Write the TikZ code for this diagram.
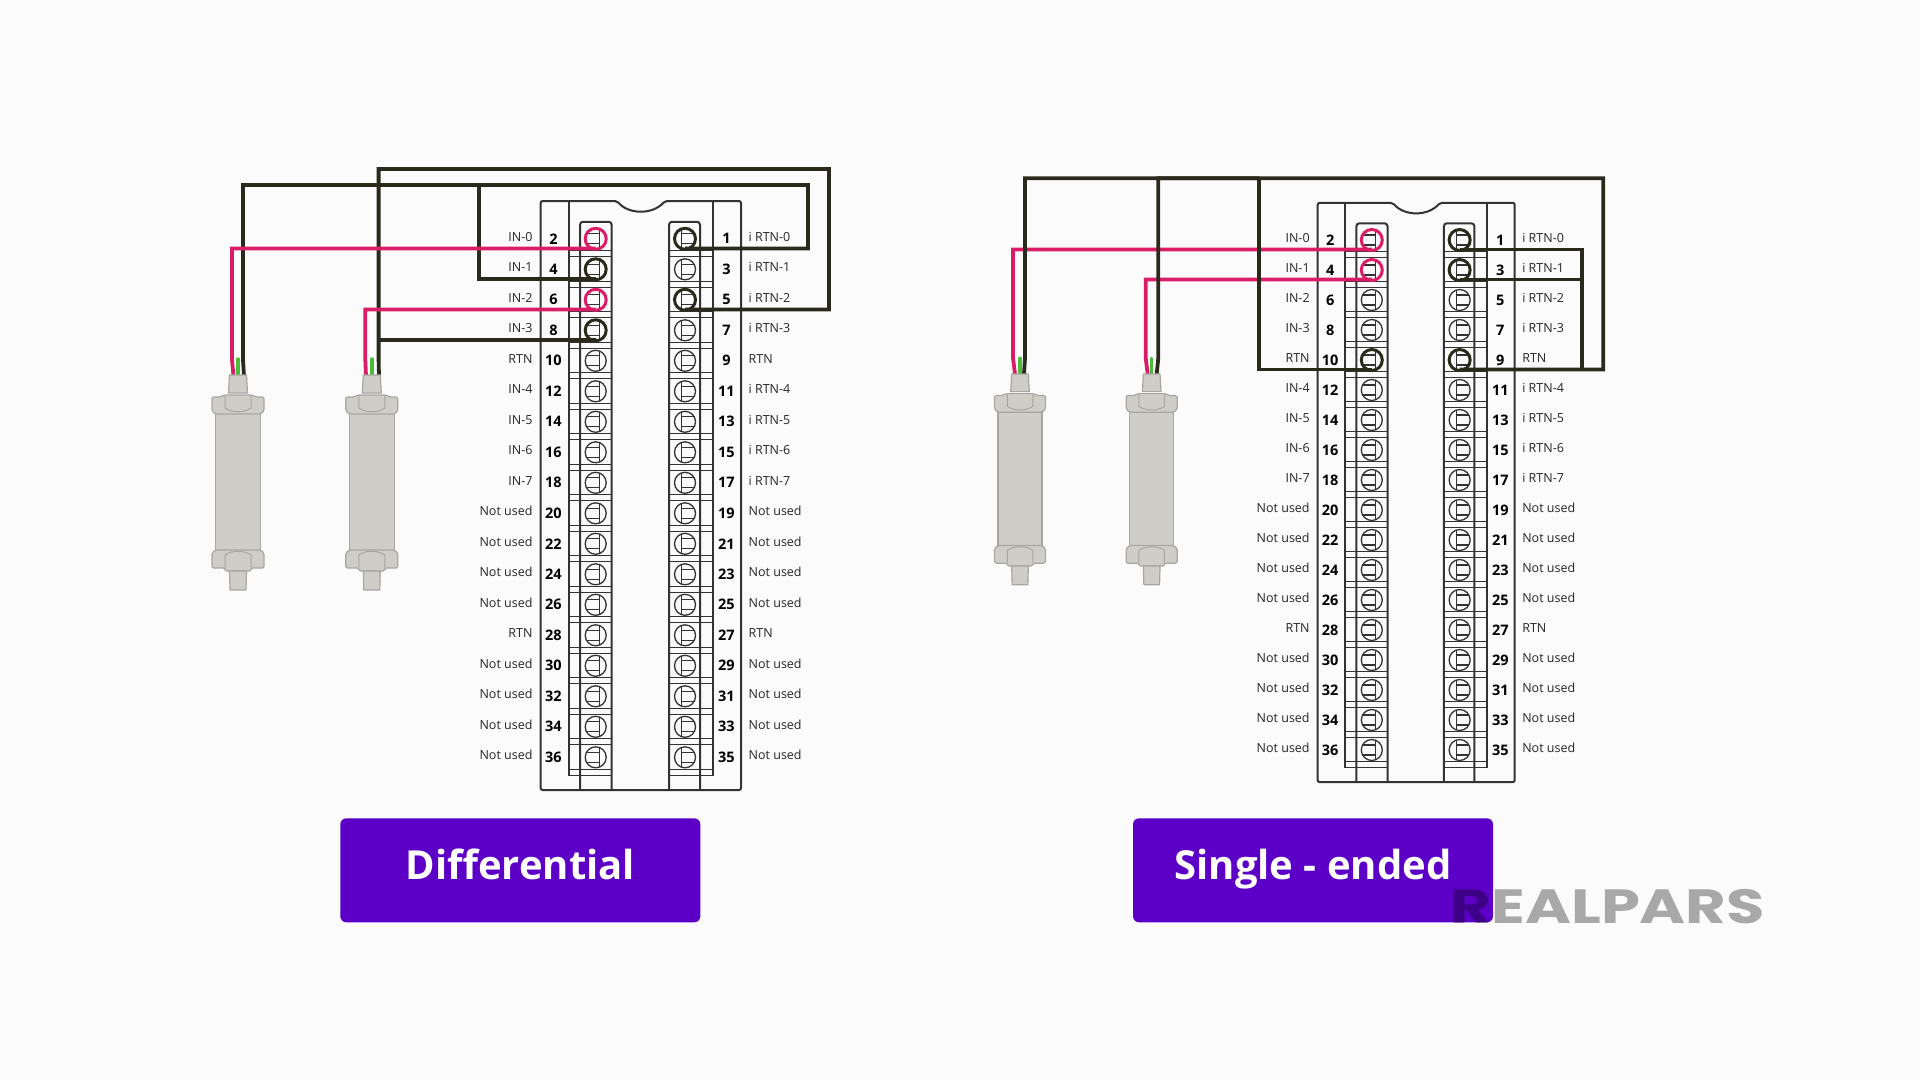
\documentclass[tikz,border=0pt]{standalone}
\usepackage{fontspec}
\setmainfont{Open Sans}
\newfontfamily\logofont{Poppins}
\definecolor{pagebg}{HTML}{FBFBFB}
\definecolor{wirepink}{HTML}{DB1C66}
\definecolor{wireblack}{HTML}{2A2A1C}
\definecolor{wiregreen}{HTML}{4CBB3A}
\definecolor{btnviolet}{HTML}{5C00C8}
\definecolor{sensorfill}{HTML}{CFCDC8}
\definecolor{sensorline}{HTML}{A8A6A0}
\definecolor{blockline}{HTML}{333333}

\begin{document}
\begin{tikzpicture}[x=1pt,y=-1pt,
    blockln/.style={draw=blockline,line width=2pt},
    thinln/.style={draw=blockline,line width=1.3pt},
    screw/.style={circle,draw=blockline,line width=1.3pt,minimum size=21pt,inner sep=0pt},
    hotscrew/.style={circle,line width=3pt,minimum size=21pt,inner sep=0pt},
    wire/.style={line width=3.8pt,line join=miter},
    numtxt/.style={font=\fontsize{14.5}{16}\selectfont\bfseries,text=black,inner sep=0pt},
    labtxt/.style={font=\fontsize{12.5}{14}\selectfont,text=black!85,inner sep=0pt},
    sensorbody/.style={fill=sensorfill,draw=sensorline,line width=1.2pt,line join=round},
    btn/.style={fill=btnviolet,rounded corners=6pt,minimum width=360pt,minimum height=104pt,
        inner sep=0pt,text=white,text height=29pt,text depth=10pt,
        font=\fontsize{40}{44}\selectfont\bfseries}]
\useasboundingbox (0,0) rectangle (1920,1080);
\fill[pagebg] (0,0) rectangle (1920,1080);

% Terminal blocks
\foreach \b/\ox/\oy/\s in {A/540.7/238.8/1,B/1317.7/240/0.9836} {
\begin{scope}[shift={(\ox,\oy)},xscale=\s,yscale=\s]
% Outer case
\draw[blockln,rounded corners=2pt] (0,551.2) -- (0,-37.8) -- (76.3,-37.8)
    .. controls (88,-24) and (112,-24) .. (124.3,-37.8)
    -- (200.3,-37.8) -- (200.3,551.2) -- cycle;
\draw[blockln] (27.8,-37.8) -- (27.8,537);
\draw[blockln] (171.8,-37.8) -- (171.8,537);
% Screw strips
\draw[blockln,rounded corners=3pt] (39.3,551.2) -- (39.3,-17) -- (71,-17) -- (71,551.2);
\draw[blockln,rounded corners=3pt] (128.3,551.2) -- (128.3,-17) -- (159.3,-17) -- (159.3,551.2);
% Left column
\foreach \n/\lab [count=\k from 0] in {2/IN-0,4/IN-1,6/IN-2,8/IN-3,10/RTN,12/IN-4,14/IN-5,16/IN-6,
    18/IN-7,20/Not used,22/Not used,24/Not used,26/Not used,28/RTN,30/Not used,32/Not used,34/Not used,36/Not used} {
    \draw[thinln] (27.8,\k*30.5+12) -- (71,\k*30.5+12);
    \draw[thinln] (27.8,\k*30.5+18) -- (71,\k*30.5+18);
    \node[screw] (\b\n) at (55,\k*30.5) {};
    \draw[thinln] (58.5,\k*30.5-10) -- (58.5,\k*30.5+10);
    \draw[thinln] (45,\k*30.5-5) -- (58.5,\k*30.5-5);
    \draw[thinln] (45,\k*30.5+5) -- (58.5,\k*30.5+5);
    \coordinate (\b\n c) at (55,\k*30.5+9.6);
    \node[numtxt] (\b\n num) at (12.7,\k*30.5) {\n};
    \node[labtxt,anchor=mid east] (\b\n txt) at (-8,\k*30.5) {\lab};
}
% Right column
\foreach \n/\lab [count=\k from 0] in {1/i RTN-0,3/i RTN-1,5/i RTN-2,7/i RTN-3,9/RTN,11/i RTN-4,13/i RTN-5,15/i RTN-6,
    17/i RTN-7,19/Not used,21/Not used,23/Not used,25/Not used,27/RTN,29/Not used,31/Not used,33/Not used,35/Not used} {
    \draw[thinln] (128.3,\k*30.5+12) -- (171.8,\k*30.5+12);
    \draw[thinln] (128.3,\k*30.5+18) -- (171.8,\k*30.5+18);
    \node[screw] (\b\n) at (144.3,\k*30.5) {};
    \draw[thinln] (140.8,\k*30.5-10) -- (140.8,\k*30.5+10);
    \draw[thinln] (140.8,\k*30.5-5) -- (154.3,\k*30.5-5);
    \draw[thinln] (140.8,\k*30.5+5) -- (154.3,\k*30.5+5);
    \coordinate (\b\n c) at (144.3,\k*30.5+9.6);
    \node[numtxt] (\b\n num) at (185.7,\k*30.5) {\n};
    \node[labtxt,anchor=mid west] (\b\n txt) at (207.8,\k*30.5) {\lab};
}
\end{scope}
}

% Used terminals
\foreach \h/\col in {A2/wirepink,A6/wirepink,A4/wireblack,A8/wireblack,A1/wireblack,A5/wireblack,
    B2/wirepink,B4/wirepink,B10/wireblack,B1/wireblack,B3/wireblack,B9/wireblack} {
    \node[hotscrew,draw=\col] (\h hot) at (\h) {};
}

% Differential wiring
\coordinate (Atop1) at (808,185);
\coordinate (Atop2) at (829,169);
\coordinate (Ajoin1) at (479,185);
\coordinate (Ajoin2) at (378.6,300);
\draw[wire,wireblack] (244,376) -- ++(-1,-16) |- (Atop1) |- (A1c);
\draw[wire,wireblack] (Ajoin1) |- (A4c);
\draw[wire,wireblack] (379,376) -- ++(-0.4,-16) |- (Atop2) |- (A5c);
\draw[wire,wireblack] (A8c -| Ajoin2) -- (A8c);
\draw[wire,wirepink] (233.5,376) -- ++(-1.5,-16) |- (A2c);
\draw[wire,wirepink] (366,376) -- ++(-0.7,-16) |- (A6c);

% Single-ended wiring
\coordinate (Btop) at (1603.3,178.3);
\coordinate (Bjoin) at (1259.3,178.3);
\coordinate (Bdrop) at (1582.3,369.4);
\draw[wire,wirepink] (1015,374) -- ++(-2,-16) |- (B2c);
\draw[wire,wirepink] (1147.7,374) -- ++(-2,-16) |- (B4c);
\draw[wire,wireblack] (1024,374) -- ++(1,-16) |- (Btop) |- (B9c);
\draw[wire,wireblack] (1156.7,374) -- ++(1.6,-16) |- (Bjoin);
\draw[wire,wireblack] (Bjoin) |- (B10c);
\draw[wire,wireblack] (B1c) -| (Bdrop);
\draw[wire,wireblack] (B3c) -- (B3c -| Bdrop);

% Sensors
\foreach \cx/\cy/\s in {238/375/1,371.8/375/1,1020/374/0.98,1151.7/374/0.98} {
\begin{scope}[shift={(\cx,\cy)},xscale=\s,yscale=\s]
\draw[wiregreen,line width=3.5pt,line cap=round] (0,1) -- (0,-16);
\draw[sensorbody] (-8.5,0) -- (8.5,0) -- (9.5,18) -- (-9.5,18) -- cycle;
\draw[sensorbody] (-22.5,38) rectangle (22.5,176);
\draw[sensorbody,rounded corners=1.5pt] (-14,20) -- (14,20) -- (18,22) -- (26,22) -- (26,36)
    -- (22.5,39) -- (-22.5,39) -- (-26,36) -- (-26,22) -- (-18,22) -- cycle;
\draw[sensorline,line width=1pt] (-13,21) -- (-13,33) .. controls (-6,38) and (6,38) .. (13,33) -- (13,21);
\draw[sensorbody,rounded corners=1.5pt] (-22.5,175) -- (22.5,175) -- (26,178) -- (26,193)
    -- (13,193) -- (13,196) -- (-13,196) -- (-13,193) -- (-26,193) -- (-26,178) -- cycle;
\draw[sensorline,line width=1pt] (-13,193) -- (-13,180) .. controls (-6,175) and (6,175) .. (13,180) -- (13,193);
\draw[sensorbody] (-8.5,196) -- (8.5,196) -- (8,215) -- (-8,215) -- cycle;
\end{scope}
}

% Captions
\node[btn] (diffbtn) at (520.3,870.3) {Differential};
\node[btn] (singlebtn) at (1313,870.3) {Single - ended};
% Logo
\node[anchor=base west,inner sep=0pt,text=black,text opacity=0.33,
    font=\logofont\bfseries\fontsize{48}{50}\selectfont] (logotxt) at (1450.6,923.3)
    {\scalebox{1.3}[1]{REALPARS}};
\end{tikzpicture}
\end{document}
